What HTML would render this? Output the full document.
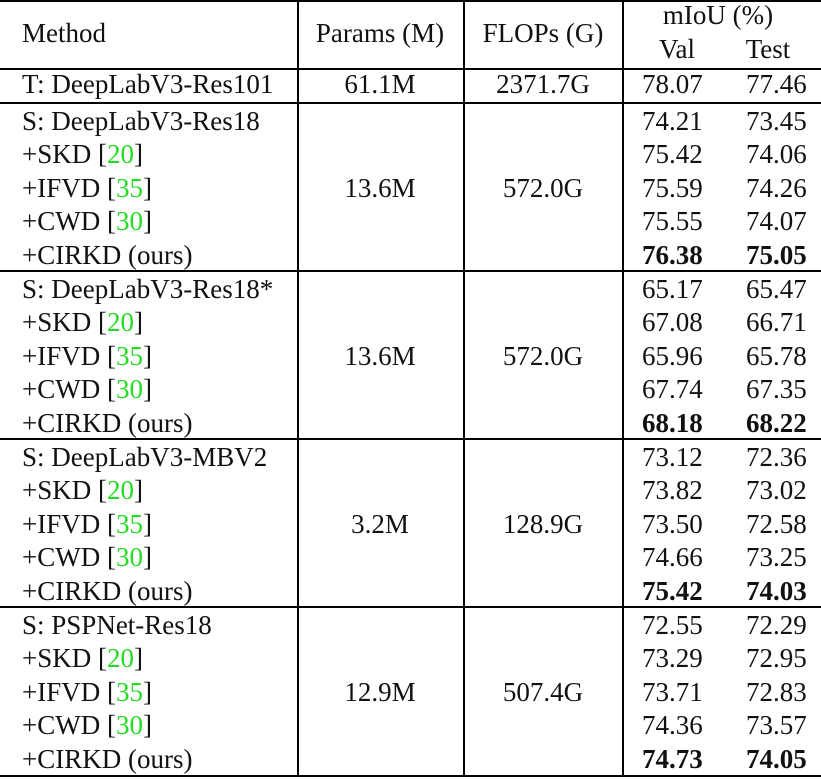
<!DOCTYPE html>
<html><head><meta charset="utf-8"><style>
body{margin:0;background:#fff;}
#c{position:relative;width:821px;height:779px;overflow:hidden;font-family:"Liberation Serif",serif;font-size:27px;color:#111;}
.h{position:absolute;left:0;width:821px;height:2px;background:#000;}
.v{position:absolute;width:1.5px;background:#000;}
.t{position:absolute;white-space:nowrap;line-height:34px;height:34px;}
.l{left:22px;}
.cen{transform:translateX(-50%);}
.r{text-align:right;}
.g{color:#22dd22;}
b{font-weight:bold;}
</style></head><body><div id="c">
<div class="h" style="top:0"></div>
<div class="h" style="top:68px;height:1.5px"></div>
<div class="h" style="top:102px;height:1.5px"></div>
<div class="h" style="top:270px;height:1.5px"></div>
<div class="h" style="top:438px;height:1.5px"></div>
<div class="h" style="top:606px;height:1.5px"></div>
<div class="h" style="top:775px"></div>
<div class="v" style="left:297px;top:0;height:777px"></div>
<div class="v" style="left:463px;top:0;height:777px"></div>
<div class="v" style="left:622px;top:0;height:777px"></div>

<div class="t l" style="top:16px">Method</div>
<div class="t cen" style="left:380px;top:16px">Params (M)</div>
<div class="t cen" style="left:543px;top:16px">FLOPs (G)</div>
<div class="t cen" style="left:718px;top:-2px">mIoU (%)</div>
<div class="t cen" style="left:677px;top:32px">Val</div>
<div class="t cen" style="left:768px;top:32px">Test</div>

<div class="t l" style="top:67px">T: DeepLabV3-Res101</div>
<div class="t cen" style="left:380px;top:67px">61.1M</div>
<div class="t cen" style="left:543px;top:67px">2371.7G</div>
<div class="t" style="left:642px;top:67px">78.07</div>
<div class="t" style="left:746px;top:67px">77.46</div>

<div id="s"></div>
<script>
var secs=[
["S: DeepLabV3-Res18","13.6M","572.0G",[["74.21","73.45"],["75.42","74.06"],["75.59","74.26"],["75.55","74.07"],["76.38","75.05"]]],
["S: DeepLabV3-Res18*","13.6M","572.0G",[["65.17","65.47"],["67.08","66.71"],["65.96","65.78"],["67.74","67.35"],["68.18","68.22"]]],
["S: DeepLabV3-MBV2","3.2M","128.9G",[["73.12","72.36"],["73.82","73.02"],["73.50","72.58"],["74.66","73.25"],["75.42","74.03"]]],
["S: PSPNet-Res18","12.9M","507.4G",[["72.55","72.29"],["73.29","72.95"],["73.71","72.83"],["74.36","73.57"],["74.73","74.05"]]]];
var names=[null,'+SKD [<span class="g">20</span>]','+IFVD [<span class="g">35</span>]','+CWD [<span class="g">30</span>]','+CIRKD (ours)'];
var h='';
secs.forEach(function(s,i){
 var top=103+168*i;
 for(var j=0;j<5;j++){
  var y=top+33.6*j+0.5;
  var n=j==0?s[0]:names[j];
  var a=s[3][j][0],b=s[3][j][1];
  if(j==4){a='<b>'+a+'</b>';b='<b>'+b+'</b>';}
  h+='<div class="t l" style="top:'+y+'px">'+n+'</div>';
  h+='<div class="t" style="left:642px;top:'+y+'px">'+a+'</div>';
  h+='<div class="t" style="left:746px;top:'+y+'px">'+b+'</div>';
 }
 h+='<div class="t cen" style="left:380px;top:'+(top+67.7)+'px">'+s[1]+'</div>';
 h+='<div class="t cen" style="left:543px;top:'+(top+67.7)+'px">'+s[2]+'</div>';
});
document.getElementById('s').outerHTML=h;
</script>
</div></body></html>
